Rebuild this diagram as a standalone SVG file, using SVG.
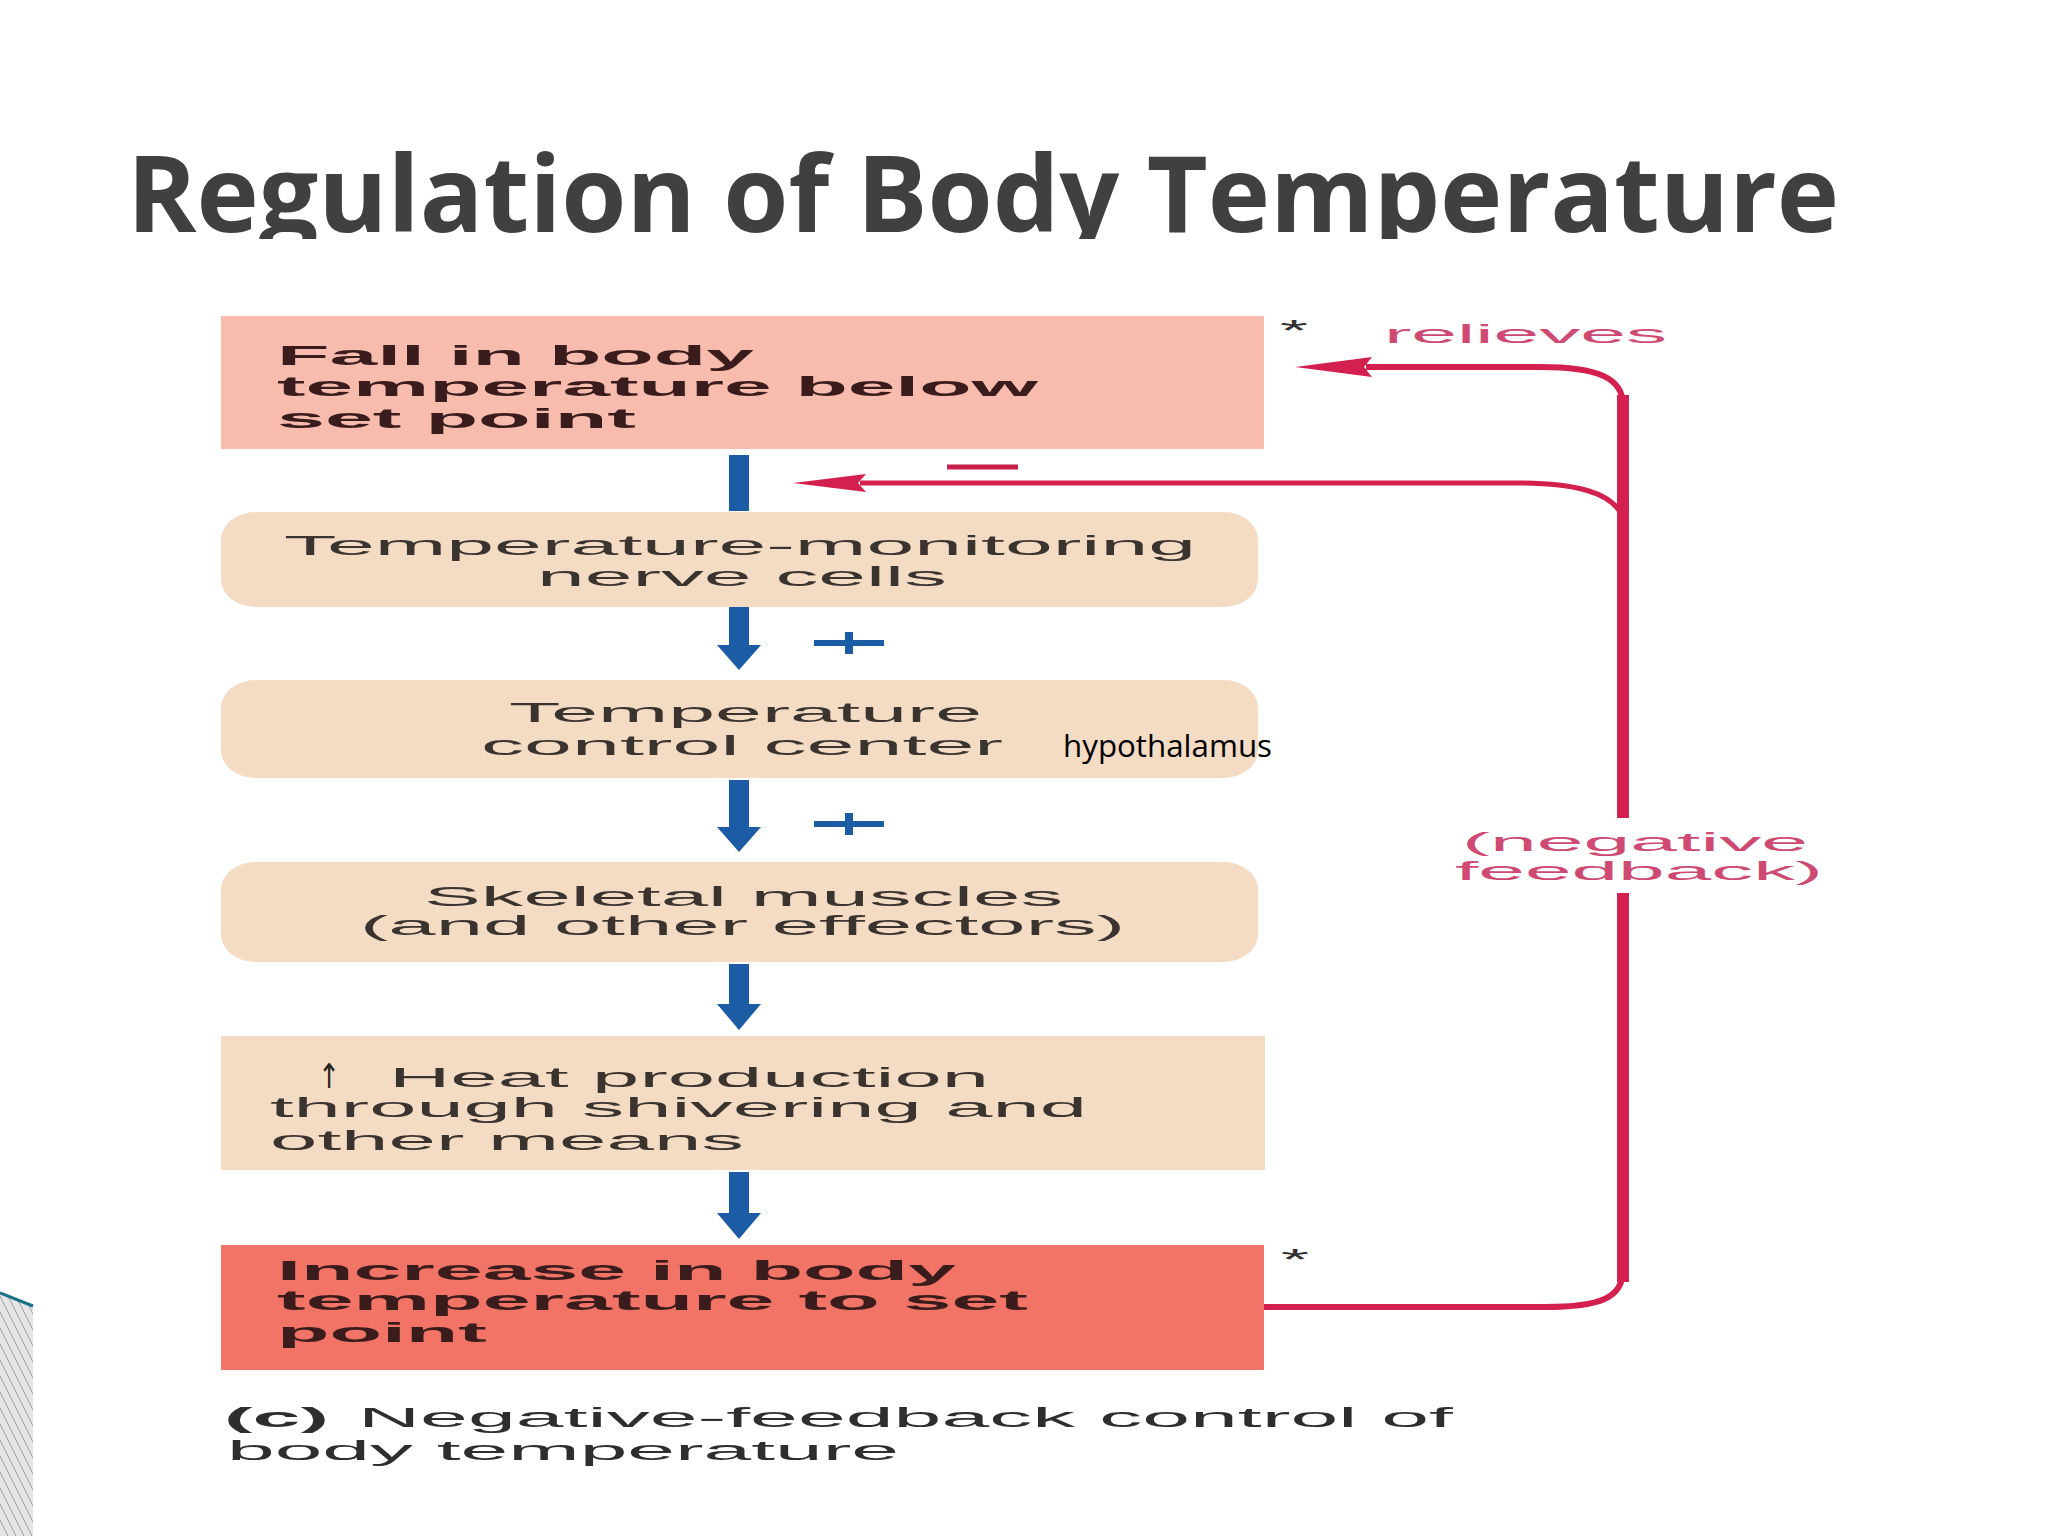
<svg xmlns="http://www.w3.org/2000/svg" width="2048" height="1536" viewBox="0 0 2048 1536">
<style>
.title{font-family:"Open Sans","Liberation Sans",sans-serif;font-weight:bold;font-size:105px;fill:#404040}
.b{font-family:"Liberation Sans",Arial,sans-serif;font-weight:bold;font-size:27px;fill:#3a1c1c}
.r{font-family:"Liberation Sans",Arial,sans-serif;font-size:28px;fill:#3a332e}
.cap{font-family:"Liberation Sans",Arial,sans-serif;font-size:27px;fill:#2e2e2e}
.rd{font-family:"Liberation Sans",Arial,sans-serif;font-size:25px;fill:#cf4a72}
.ast{font-family:"Liberation Sans",Arial,sans-serif;font-size:30px;fill:#333}
.hyp{font-family:"Open Sans","Liberation Sans",sans-serif;font-size:31px;fill:#000}
.beige{fill:#f4dbc4}
.blue{fill:#1c5ca5}
.redl{fill:none;stroke:#d4204f}
.redf{fill:#d4204f}
</style>
<defs>
<clipPath id="titleClip"><rect x="0" y="100" width="2048" height="139"/></clipPath>
<pattern id="hatch" patternUnits="userSpaceOnUse" width="8" height="16">
<rect width="8" height="16" fill="#e6e6e6"/>
<line x1="0" y1="0" x2="8" y2="16" stroke="#9a9a9a" stroke-width="1"/>
</pattern>
</defs>
<rect width="2048" height="1536" fill="#ffffff"/>
<g id="decoration">
<polygon points="0,1293 33,1306 33,1536 0,1536" fill="url(#hatch)"/>
<line x1="0" y1="1293" x2="33" y2="1306" stroke="#1b6f86" stroke-width="3"/>
</g>
<g id="title" clip-path="url(#titleClip)">
<text class="title" x="127" y="232" textLength="1712" lengthAdjust="spacingAndGlyphs">Regulation of Body Temperature</text>
</g>

<g id="connectors">
<rect class="blue" x="729" y="455" width="20" height="56"/>
<rect class="blue" x="729" y="607" width="20" height="42"/>
<polygon class="blue" points="717,645 761,645 739,670"/>
<rect class="blue" x="729" y="780" width="20" height="50"/>
<polygon class="blue" points="717,827 761,827 739,852"/>
<rect class="blue" x="729" y="964" width="20" height="42"/>
<polygon class="blue" points="717,1004 761,1004 739,1030"/>
<rect class="blue" x="729" y="1172" width="20" height="44"/>
<polygon class="blue" points="717,1213 761,1213 739,1239"/>
<rect class="blue" x="814" y="640" width="70" height="6"/>
<rect class="blue" x="845" y="632" width="8" height="22"/>
<rect class="blue" x="814" y="821" width="70" height="6"/>
<rect class="blue" x="845" y="813" width="8" height="22"/>
<path class="redl" stroke-width="6" d="M1366 367 H1540 C1598 367 1623 378 1623 405"/>
<path class="redl" stroke-width="12" d="M1623 395 V818 M1623 893 V1282"/>
<path class="redl" stroke-width="5" d="M860 483 H1515 C1575 483 1608 492 1620 512"/>
<path class="redl" stroke-width="6" d="M1264 1307 H1545 C1600 1307 1623 1298 1623 1270"/>
<polygon class="redf" points="1295,367 1372,357 1364,367 1372,377"/>
<polygon class="redf" points="793,483 866,474 858,483 866,492"/>
<rect x="947" y="464.5" width="71" height="5" fill="#c8204a"/>
</g>

<g id="n1">
<rect x="221" y="316" width="1043" height="133" fill="#f8bcae"/>
<text class="b" x="277" y="365" textLength="477" lengthAdjust="spacingAndGlyphs">Fall in body</text>
<text class="b" x="277" y="396" textLength="761" lengthAdjust="spacingAndGlyphs">temperature below</text>
<text class="b" x="277" y="428" textLength="359" lengthAdjust="spacingAndGlyphs">set point</text>
</g>
<g id="n2">
<rect class="beige" x="221" y="512" width="1037" height="95" rx="34" ry="28"/>
<text class="r" x="284" y="555" textLength="912" lengthAdjust="spacingAndGlyphs">Temperature-monitoring</text>
<text class="r" x="537" y="586" textLength="410" lengthAdjust="spacingAndGlyphs">nerve cells</text>
</g>
<g id="n3">
<rect class="beige" x="221" y="680" width="1037" height="98" rx="34" ry="28"/>
<text class="r" x="509" y="722" textLength="473" lengthAdjust="spacingAndGlyphs">Temperature</text>
<text class="r" x="481" y="755" textLength="522" lengthAdjust="spacingAndGlyphs">control center</text>
<text class="hyp" x="1063" y="757" textLength="209" lengthAdjust="spacingAndGlyphs">hypothalamus</text>
</g>
<g id="n4">
<rect class="beige" x="221" y="862" width="1037" height="100" rx="34" ry="28"/>
<text class="r" x="424" y="906" textLength="639" lengthAdjust="spacingAndGlyphs">Skeletal muscles</text>
<text class="r" x="360" y="935" textLength="765" lengthAdjust="spacingAndGlyphs">(and other effectors)</text>
</g>
<g id="n5">
<rect class="beige" x="221" y="1036" width="1044" height="134"/>
<text x="318" y="1088" font-family="DejaVu Sans, sans-serif" font-size="34" fill="#2a2420" textLength="22" lengthAdjust="spacingAndGlyphs">↑</text>
<text class="r" x="389" y="1087" textLength="600" lengthAdjust="spacingAndGlyphs">Heat production</text>
<text class="r" x="270" y="1117" textLength="817" lengthAdjust="spacingAndGlyphs">through shivering and</text>
<text class="r" x="270" y="1150" textLength="474" lengthAdjust="spacingAndGlyphs">other means</text>
</g>
<g id="n6">
<rect x="221" y="1245" width="1043" height="125" fill="#f17466"/>
<text class="b" x="277" y="1280" textLength="679" lengthAdjust="spacingAndGlyphs">Increase in body</text>
<text class="b" x="277" y="1310" textLength="751" lengthAdjust="spacingAndGlyphs">temperature to set</text>
<text class="b" x="277" y="1342" textLength="210" lengthAdjust="spacingAndGlyphs">point</text>
</g>
<g id="labels">
<text class="ast" x="1280" y="340" textLength="28" lengthAdjust="spacingAndGlyphs">*</text>
<text class="ast" x="1281" y="1269" textLength="28" lengthAdjust="spacingAndGlyphs">*</text>
<text class="rd" x="1384" y="343" font-size="26" textLength="283" lengthAdjust="spacingAndGlyphs">relieves</text>
<text class="rd" x="1462" y="851" textLength="346" lengthAdjust="spacingAndGlyphs">(negative</text>
<text class="rd" x="1455" y="880" textLength="368" lengthAdjust="spacingAndGlyphs">feedback)</text>
</g>
<g id="caption">
<text class="cap" x="224" y="1427" font-weight="bold" textLength="105" lengthAdjust="spacingAndGlyphs">(c)</text>
<text class="cap" x="358" y="1427" textLength="1095" lengthAdjust="spacingAndGlyphs">Negative-feedback control of</text>
<text class="cap" x="227" y="1460" textLength="672" lengthAdjust="spacingAndGlyphs">body temperature</text>
</g>
</svg>
